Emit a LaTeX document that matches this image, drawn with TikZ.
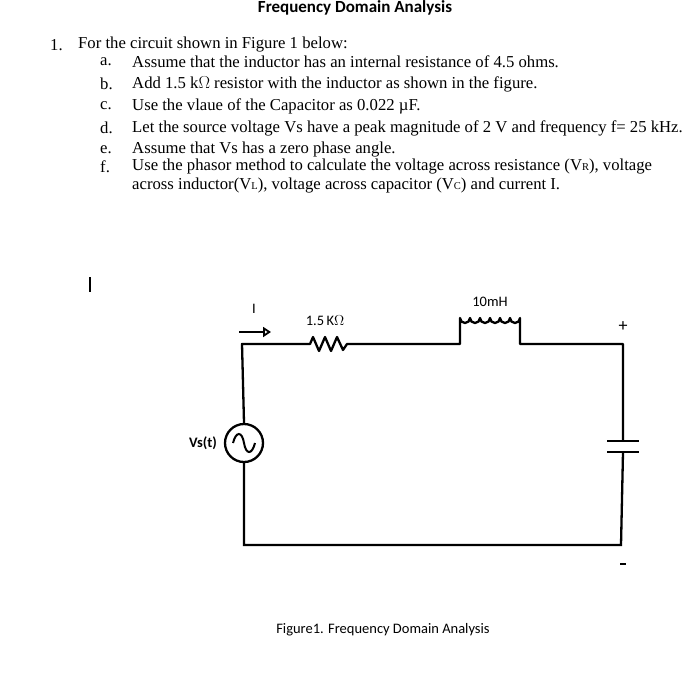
\documentclass[tikz,border=0pt]{standalone}
\usepackage{fontspec}
\usetikzlibrary{arrows.meta}
\setmainfont{Liberation Serif}
\newfontfamily\calfnt{Carlito}
\newcommand{\subcap}[1]{{\fontsize{10.5}{10}\selectfont #1}}
\begin{document}
\begin{tikzpicture}[x=1pt,y=-1pt,
  txt/.style={anchor=west,inner sep=0pt,font=\fontsize{16.7}{18}\selectfont},
  lab/.style={inner sep=0pt,font=\calfnt\fontsize{14.5}{16}\selectfont},
  wire/.style={line width=2.3pt}]
\useasboundingbox[fill=white] (0,0) rectangle (700,672);
\node[lab,font=\calfnt\bfseries\fontsize{17}{18}\selectfont] (title) at (355,8) {Frequency Domain Analysis};
\node[txt] (n1) at (50,45) {1.};
\node[txt] (q0) at (78,45) {For the circuit shown in Figure 1 below:};
\node[txt] (la) at (100,62) {a.}; \node[txt] (ta) at (132,62) {Assume that the inductor has an internal resistance of 4.5 ohms.};
\node[txt] (lb) at (100,84) {b.}; \node[txt] (tb) at (132,84) {Add 1.5 k$\Omega$ resistor with the inductor as shown in the figure.};
\node[txt] (lc) at (100,106) {c.}; \node[txt] (tc) at (132,106) {Use the vlaue of the Capacitor as 0.022 µF.};
\node[txt] (ld) at (100,128) {d.}; \node[txt] (td) at (132,128) {Let the source voltage Vs have a peak magnitude of 2 V and frequency f= 25 kHz.};
\node[txt] (le) at (100,150) {e.}; \node[txt] (te) at (132,150) {Assume that Vs has a zero phase angle.};
\node[txt] (lf) at (100,167) {f.}; \node[txt] (tf) at (132,167) {Use the phasor method to calculate the voltage across resistance (V\subcap{R}), voltage};
\node[txt] (tf2) at (132,186) {across inductor(V\subcap{L}), voltage across capacitor (V\subcap{C}) and current I.};
\draw[line width=1.2pt] (90,277) -- (90,292);
% circuit
\coordinate (tl) at (242,344); \coordinate (bl) at (244,545);
\coordinate (tr) at (623,344); \coordinate (br) at (621,545);
\node[circle,draw,line width=2.3pt,minimum size=38pt,inner sep=0pt] (src) at (244,443) {};
\draw[line width=2pt] (233,443) .. controls (236,431) and (242,431) .. (244,443) .. controls (246,455) and (252,455) .. (255,443);
\coordinate (r1) at (310,344); \coordinate (r2) at (347,344);
\coordinate (l1) at (460,344); \coordinate (l2) at (520,344);
\coordinate (c1) at (623,441); \coordinate (c2) at (623,452);
\draw[wire,line join=round] (src.north) -- (tl) -- (r1) -- (313,337) -- (319,351) -- (325,337) -- (331,351) -- (337,337) -- (343,350) -- (r2) -- (l1) -- (460,318)
  arc[start angle=180,end angle=0,radius=5] arc[start angle=180,end angle=0,radius=5] arc[start angle=180,end angle=0,radius=5] arc[start angle=180,end angle=0,radius=5] arc[start angle=180,end angle=0,radius=5] arc[start angle=180,end angle=0,radius=5]
  -- (l2) -- (tr) -- (c1);
\draw[wire] (c2) -- (br) -- (bl) -- (src.south);
\draw[wire] (607,441) -- (639,441); \draw[wire] (607,452) -- (639,452);
\coordinate (a0) at (239,332); \coordinate (a1) at (271,332);
\draw[line width=1.8pt,-{Triangle[open,length=8pt,width=10pt]}] (a0) -- (a1);
\node[lab] (I) at (254,309) {I};
\node[lab] (rl) at (325,321) {1.5\,K$\Omega$};
\node[lab] (ll) at (490,302) {10mH};
\node[lab,font=\calfnt\bfseries\fontsize{14.5}{16}\selectfont] (vs) at (203,443) {Vs(t)};
\node[lab,font=\calfnt\fontsize{18}{18}\selectfont] (pl) at (623,327) {+};
\draw[line width=2pt] (620,564) -- (626,564);
\node[lab] (cap) at (383,630) {Figure1. Frequency Domain Analysis};
\end{tikzpicture}
\end{document}
